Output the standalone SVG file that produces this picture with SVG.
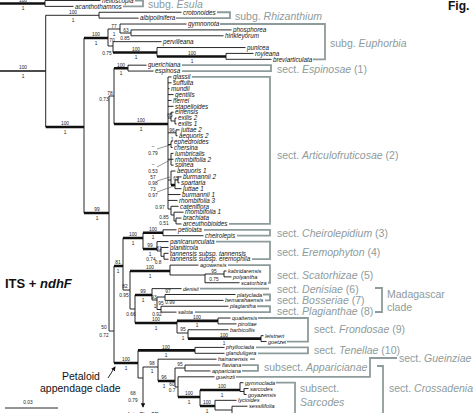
<svg xmlns="http://www.w3.org/2000/svg" width="474" height="413" viewBox="0 0 474 413">
<defs>
<style>
.br{fill:none;stroke:#111;stroke-width:0.9}
.tk{fill:none;stroke:#111;stroke-width:2.6}
.md{fill:none;stroke:#111;stroke-width:1.5}
.gl{fill:none;stroke:#8e9b9b;stroke-width:1.8}
.ld{fill:none;stroke:#333;stroke-width:0.5}
.lf{font-family:"Liberation Sans",Arial,sans-serif;font-style:italic;font-size:6.3px;fill:#111}
.sm{font-size:5.6px}
.sv{font-family:"Liberation Sans",Arial,sans-serif;font-size:4.8px;fill:#222;text-anchor:middle}
.sec{font-family:"Liberation Sans",Arial,sans-serif;font-size:10.5px;fill:#8e9b9b}
.blk{font-family:"Liberation Sans",Arial,sans-serif;fill:#111}
</style>
<marker id="ah" viewBox="0 0 6 6" refX="5" refY="3" markerWidth="5" markerHeight="5" orient="auto"><path d="M0,0 L6,3 L0,6 z" fill="#111"/></marker>
</defs>
<rect width="474" height="413" fill="#fff"/>

<g id="connectors">
<path class="tk" d="M0,3.5H45 M45.7,127H84 M84,38H108 M113,52.5H157 M157,56.5H226 M84,213H109 M114,68.2H128 M114,124H168 M114,266H123 M123,238H143 M143,232.7H163 M143,249H157 M130,271H170 M135,295H152 M135,323H177 M177,320.9H218 M188,338.6H261 M114,363H138 M138,350.4H195 M158,381H175 M178,397H200 M200,390H240 M200,406H215 M171,185H175"/>
<path class="md" d="M0,71H45.7"/>
<path class="br" d="M45,0.5V6.38 M45,0.5H100.5 M45,6.38H73.5
M45.7,15.3V127 M45.7,15.3H99 M99,12.26V18.14 M99,12.26H181.5 M99,18.14H138.5
M84,38V213 M108,29V46 M108,29H120 M120,24.02V33 M120,24.02H186.5 M120,33H131 M131,29.9V35.78 M131,29.9H231.5 M131,35.78H223.5
M108,46H113 M113,41.66V52.5 M113,41.66H161.5 M157,47.54V56.5 M157,47.54H245.5 M226,53.42V59.3 M226,53.42H253.5 M226,59.3H271.5
M109,96V331 M109,96H114 M114,68.2V124 M128,65.18V71.06 M128,65.18H146.5 M128,71.06H153.5
M168,76.94V209 M168,76.94H171.5 M168,82.82H171.5 M168,88.7H169.5 M168,94.58H173.5 M168,100.46H171.5 M168,106.34H173.5
M168,118H171 M171,112.22V121 M171,112.22H173.5 M171,121H175 M175,118.1V123.98 M175,118.1H176.5 M175,123.98H176.5
M168,132.8H176 M176,129.86V135.74 M176,129.86H179.5 M176,135.74H177.5
M168,144.56H171 M171,141.62V147.5 M171,141.62H172.5 M171,147.5H172.5
M168,159.26H171 M171,153.38V165.14 M171,153.38H173.5 M171,159.26H173.5 M171,165.14H173.5
M168,180H171 M171,171.02V185 M171,171.02H175.5 M175,180V188.66 M175,180H178 M178,176.9V182.78 M178,176.9H181.5 M178,182.78H179.5 M175,188.66H181.5
M168,194.54H180.5 M168,200.42H177.5
M168,209H171 M171,206.3V215 M171,206.3H178.5 M171,215H174 M174,212.18V221 M174,212.18H183.5 M174,221H176 M176,218.06V223.94 M176,218.06H181.5 M176,223.94H181.5
M109,331H114 M114,266V363 M123,238V290 M143,232.7V249 M163,229.82V235.7 M163,229.82H176.5 M163,235.7H203.5
M157,241.58V251 M157,241.58H168.5 M157,251H161 M161,247.46V256.3 M161,247.46H168.5 M161,256.3H164 M164,253.34V259.22 M164,253.34H168.5 M164,259.22H168.5
M123,290H130 M130,271V309 M170,265.1V275 M170,265.1H198.5 M170,275H205 M205,274V282.74 M205,274H224 M224,270.98V276.86 M224,270.98H226.5 M224,276.86H231.5 M205,282.74H239.5
M130,309H135 M135,295V323 M152,288.62V300 M152,288.62H181.5 M152,300H157 M157,297V309.5 M157,297H165 M165,294.5V300.38 M165,294.5H235.5 M165,300.38H223.5 M157,309.5H161 M161,306.26V312.14 M161,306.26H228.5 M161,312.14H176.5
M177,320.9V333 M218,318.02V323.9 M218,318.02H230.5 M218,323.9H236.5 M177,333H188 M188,329.78V338.6 M188,329.78H228.5 M261,335.66V341.54 M261,335.66H263.5 M261,341.54H266.5
M138,350.4V378 M195,347.42V353.3 M195,347.42H224.5 M195,353.3H224.5 M138,378H143
M143,367H158 M158,359.18V381 M158,359.18H216.5 M175,368V387 M175,368H185 M185,365.06V370.94 M185,365.06H220.5 M185,370.94H210.5
M175,387H178 M178,376.82V397 M178,376.82H214.5 M200,390V406 M240,382.7V391.5 M240,382.7H243.5 M240,391.5H244 M244,388.58V394.46 M244,388.58H248.5 M244,394.46H246.5
M215,400.34V410 M215,400.34H236.5 M215,410H232 M232,406.22V413 M232,406.22H247.5"/>
<path class="br" d="M143,367V407" marker-end="url(#ah)"/>
<path class="br" d="M108,378L115,367" marker-end="url(#ah)"/>
<path class="ld" d="M157,149L170,145 M157,167L170,160 M157,181L170,177 M157,192L174,186"/>
<path class="br" d="M5,408H58"/>
</g>

<g id="leaves">
<text class="lf" x="102" y="2.7">helioscopia</text>
<text class="lf" x="75" y="8.6">acanthothamnos</text>
<text class="lf" x="183" y="14.5">crotonoides</text>
<text class="lf" x="140" y="20.3">albipolinifera</text>
<text class="lf" x="188" y="26.2">gymnonota</text>
<text class="lf" x="233" y="32.1">phosphorea</text>
<text class="lf" x="225" y="38">hinkleyorum</text>
<text class="lf" x="163" y="43.9">pervilleana</text>
<text class="lf" x="247" y="49.7">punicea</text>
<text class="lf" x="255" y="55.6">royleana</text>
<text class="lf" x="273" y="61.5">breviarticulata</text>
<text class="lf" x="148" y="67.4">guerichiana</text>
<text class="lf" x="155" y="73.3">espinosa</text>
<text class="lf" x="173" y="79.1">glassii</text>
<text class="lf" x="173" y="85">suffulta</text>
<text class="lf" x="171" y="90.9">mundii</text>
<text class="lf" x="175" y="96.8">gentilis</text>
<text class="lf" x="173" y="102.7">herrei</text>
<text class="lf" x="175" y="108.5">stapelioides</text>
<text class="lf" x="175" y="114.4">einensis</text>
<text class="lf" x="178" y="120.3">exilis 2</text>
<text class="lf" x="178" y="126.2">exilis 1</text>
<text class="lf" x="181" y="132.1">juttae 2</text>
<text class="lf" x="179" y="137.9">aequoris 2</text>
<text class="lf" x="174" y="143.8">ephedroides</text>
<text class="lf" x="174" y="149.7">chersina</text>
<text class="lf" x="175" y="155.6">lumbricalis</text>
<text class="lf" x="175" y="161.5">rhombifolia 2</text>
<text class="lf" x="175" y="167.3">spinea</text>
<text class="lf" x="177" y="173.2">aequoris 1</text>
<text class="lf" x="183" y="179.1">burmannii 2</text>
<text class="lf" x="181" y="185">spartaria</text>
<text class="lf" x="183" y="190.9">juttae 1</text>
<text class="lf" x="182" y="196.7">burmannii 1</text>
<text class="lf" x="179" y="202.6">rhombifolia 3</text>
<text class="lf" x="180" y="208.5">cateniflora</text>
<text class="lf" x="185" y="214.4">rhombifolia 1</text>
<text class="lf" x="183" y="220.3">brachiata</text>
<text class="lf" x="183" y="226.1">arceuthobioides</text>
<text class="lf" x="178" y="232">petiolata</text>
<text class="lf" x="205" y="237.9">cheirolepis</text>
<text class="lf" x="170" y="243.8">panicarunculata</text>
<text class="lf" x="170" y="249.7">planiticola</text>
<text class="lf" x="170" y="255.5">tannensis subsp. tannensis</text>
<text class="lf" x="170" y="261.4">tannensis subsp. eremophila</text>
<text class="lf sm" x="200" y="267.1">agowensis</text>
<text class="lf sm" x="228" y="273">kabridarensis</text>
<text class="lf sm" x="233" y="278.9">polyantha</text>
<text class="lf sm" x="241" y="284.7">scatorhiza</text>
<text class="lf sm" x="183" y="290.6">denisii</text>
<text class="lf sm" x="237" y="296.5">platyclada</text>
<text class="lf sm" x="225" y="302.4">bemarahaensis</text>
<text class="lf sm" x="230" y="308.3">plagiantha</text>
<text class="lf sm" x="178" y="314.1">salota</text>
<text class="lf sm" x="232" y="320">quaitensis</text>
<text class="lf sm" x="238" y="325.9">pirottae</text>
<text class="lf sm" x="230" y="331.8">barbicollis</text>
<text class="lf sm" x="265" y="337.7">leistneri</text>
<text class="lf sm" x="268" y="343.5">goetzei</text>
<text class="lf sm" x="226" y="349.4">phyllociada</text>
<text class="lf sm" x="226" y="355.3">glanduligera</text>
<text class="lf sm" x="218" y="361.2">hainanensis</text>
<text class="lf sm" x="222" y="367.1">flaviana</text>
<text class="lf sm" x="212" y="372.9">appariciana</text>
<text class="lf sm" x="216" y="378.8">gueinzii</text>
<text class="lf sm" x="245" y="384.7">gymnoclada</text>
<text class="lf sm" x="250" y="390.6">sarcodes</text>
<text class="lf sm" x="248" y="396.5">goyazensis</text>
<text class="lf sm" x="238" y="402.3">lycioides</text>
<text class="lf sm" x="249" y="408.2">sessilifolia</text>
</g>

<g id="support">
<text class="sv" x="23" y="1.5">100</text><text class="sv" x="23" y="10">1</text>
<text class="sv" x="23" y="69">100</text><text class="sv" x="23" y="78">1</text>
<text class="sv" x="73" y="13.5">100</text><text class="sv" x="73" y="22">1</text>
<text class="sv" x="65" y="125">100</text><text class="sv" x="65" y="133.5">1</text>
<text class="sv" x="96" y="36">100</text><text class="sv" x="96" y="44.5">1</text>
<text class="sv" x="114" y="27.5">77</text><text class="sv" x="114" y="35.5">1</text>
<text class="sv" x="126" y="32">63</text><text class="sv" x="125" y="39.5">0.85</text>
<text class="sv" x="112" y="42">70</text><text class="sv" x="107" y="54.5">0.75</text>
<text class="sv" x="136" y="50.5">100</text><text class="sv" x="136" y="59">1</text>
<text class="sv" x="192" y="54.5">100</text><text class="sv" x="192" y="63">1</text>
<text class="sv" x="121" y="66.5">100</text><text class="sv" x="121" y="75">1</text>
<text class="sv" x="110" y="94.5">78</text><text class="sv" x="104" y="101">0.73</text>
<text class="sv" x="141" y="122">100</text><text class="sv" x="141" y="130.5">1</text>
<text class="sv" x="170" y="117">85</text>
<text class="sv" x="172" y="131.5">96</text><text class="sv" x="172" y="141">1</text>
<text class="sv" x="153" y="148">–</text><text class="sv" x="153" y="155">0.79</text>
<text class="sv" x="153" y="166">–</text><text class="sv" x="153" y="173">0.53</text>
<text class="sv" x="153" y="178.5">57</text><text class="sv" x="153" y="185">0.98</text>
<text class="sv" x="153" y="190.5">73</text><text class="sv" x="153" y="197">0.97</text>
<text class="sv" x="176" y="180">65</text>
<text class="sv" x="160" y="209">0.97</text>
<text class="sv" x="164" y="219">0.85</text>
<text class="sv" x="164" y="225">0.51</text>
<text class="sv" x="97" y="211">99</text><text class="sv" x="97" y="219.5">1</text>
<text class="sv" x="133" y="236">100</text><text class="sv" x="133" y="244.5">1</text>
<text class="sv" x="153" y="230.5">100</text><text class="sv" x="153" y="239">1</text>
<text class="sv" x="150" y="247">99</text><text class="sv" x="150" y="255.5">1</text>
<text class="sv" x="159" y="250">81</text>
<text class="sv" x="151" y="261">0.74</text><text class="sv" x="158" y="264">0.8</text>
<text class="sv" x="118" y="264">81</text><text class="sv" x="118" y="272.5">1</text>
<text class="sv" x="150" y="269">100</text><text class="sv" x="150" y="277.5">1</text>
<text class="sv" x="214" y="272.5">95</text><text class="sv" x="214" y="281">0.75</text>
<text class="sv" x="125" y="288">82</text><text class="sv" x="124" y="297">0.95</text>
<text class="sv" x="131" y="316">0.66</text>
<text class="sv" x="143" y="293">99</text><text class="sv" x="143" y="301.5">1</text>
<text class="sv" x="168" y="292.5">97</text>
<text class="sv" x="154" y="298.5">93</text><text class="sv" x="161" y="305">95</text><text class="sv" x="170" y="304">0.99</text>
<text class="sv" x="155" y="307.5">1</text><text class="sv" x="157" y="316">0.92</text>
<text class="sv" x="156" y="321">100</text><text class="sv" x="156" y="329.5">1</text>
<text class="sv" x="197" y="318.5">100</text><text class="sv" x="197" y="327">1</text>
<text class="sv" x="183" y="331">95</text><text class="sv" x="183" y="339.5">1</text>
<text class="sv" x="224" y="336.5">100</text><text class="sv" x="224" y="345">1</text>
<text class="sv" x="104" y="329">50</text><text class="sv" x="104" y="337">0.72</text>
<text class="sv" x="166" y="348.5">100</text><text class="sv" x="166" y="357">1</text>
<text class="sv" x="126" y="361">100</text><text class="sv" x="126" y="369.5">1</text>
<text class="sv" x="133" y="395">68</text><text class="sv" x="133" y="401.5">0.79</text>
<text class="sv" x="152" y="365">98</text><text class="sv" x="152" y="373">1</text>
<text class="sv" x="164" y="379">96</text><text class="sv" x="164" y="387.5">1</text>
<text class="sv" x="180" y="366">95</text>
<text class="sv" x="172" y="385.5">60</text><text class="sv" x="172" y="392">0.7</text>
<text class="sv" x="189" y="395">100</text><text class="sv" x="189" y="403.5">1</text>
<text class="sv" x="222" y="388">100</text><text class="sv" x="222" y="396.5">1</text>
<text class="sv" x="207" y="404">100</text><text class="sv" x="207" y="412.5">1</text>
<text class="sv" x="28" y="404">0.03</text>
</g>

<g id="sect-esula"><path class="gl" d="M135,0.5H143V6.38H123"/><text class="sec" x="148" y="8">subg. <tspan font-style="italic">Esula</tspan></text></g>
<g id="sect-rhizanthium"><path class="gl" d="M217,12.26H230V18.14H176"/><text class="sec" x="235" y="19.5">subg. <tspan font-style="italic">Rhizanthium</tspan></text></g>
<g id="sect-euphorbia"><path class="gl" d="M220,24.02H325V59.3H313"/><text class="sec" x="330" y="47">subg. <tspan font-style="italic">Euphorbia</tspan></text></g>
<g id="sect-espinosae"><path class="gl" d="M182,65.18H271V71.06H182"/><text class="sec" x="277" y="73">sect. <tspan font-style="italic">Espinosae</tspan> (1)</text></g>
<g id="sect-articulofruticosae"><path class="gl" d="M192,76.94H270V223.94H229"/><text class="sec" x="277" y="159">sect. <tspan font-style="italic">Articulofruticosae</tspan> (2)</text></g>
<g id="sect-cheirolepidium"><path class="gl" d="M204,229.82H270V235.7H237"/><text class="sec" x="277" y="237">sect. <tspan font-style="italic">Cheirolepidium</tspan> (3)</text></g>
<g id="sect-eremophyton"><path class="gl" d="M216,241.58H270V259.22H252"/><text class="sec" x="277" y="256">sect. <tspan font-style="italic">Eremophyton</tspan> (4)</text></g>
<g id="sect-scatorhizae"><path class="gl" d="M228,265.1H270V282.74H268"/><text class="sec" x="277" y="278.5">sect. <tspan font-style="italic">Scatorhizae</tspan>  (5)</text></g>
<g id="sect-denisiae"><path class="gl" d="M200,288.62H269"/><text class="sec" x="277" y="293">sect. <tspan font-style="italic">Denisiae</tspan> (6)</text></g>
<g id="sect-bosseriae"><path class="gl" d="M263,294.5H270V300.38H265"/><text class="sec" x="277" y="303.5">sect. <tspan font-style="italic">Bosseriae</tspan> (7)</text></g>
<g id="sect-plagianthae"><path class="gl" d="M257,306.26H270V312.14H195"/><text class="sec" x="277" y="314.5">sect. <tspan font-style="italic">Plagianthae</tspan> (8)</text></g>
<g id="madagascar"><path class="gl" d="M375,288H382V312H375"/><text class="sec" x="387" y="298">Madagascar</text><text class="sec" x="387" y="311">clade</text></g>
<g id="sect-frondosae"><path class="gl" d="M258,318.02H308V341.54H287"/><text class="sec" x="314" y="333">sect. <tspan font-style="italic">Frondosae</tspan> (9)</text></g>
<g id="sect-tenellae"><path class="gl" d="M256,347.42H308V353.3H258"/><text class="sec" x="314" y="354">sect. <tspan font-style="italic">Tenellae</tspan> (10)</text></g>
<g id="sect-gueinziae"><path class="gl" d="M236,376.82H370V358H397 M250,359.18H255"/><text class="sec" x="399" y="362">sect. <tspan font-style="italic">Gueinziae</tspan></text></g>
<g id="subsect-apparicianae"><path class="gl" d="M242,365.06H258V370.94H242"/><text class="sec" x="264" y="371">subsect. <tspan font-style="italic">Apparicianae</tspan></text></g>
<g id="sect-crossadenia"><path class="gl" d="M377,366H383V413"/><text class="sec" x="389" y="392">sect. <tspan font-style="italic">Crossadenia</tspan></text></g>
<g id="subsect-sarcodes"><path class="gl" d="M276,382.7H295V413"/><text class="sec" x="300" y="392">subsect.</text><text class="sec" x="300" y="406" font-style="italic">Sarcodes</text></g>

<g id="labels">
<text class="blk" x="448" y="10" font-size="12" font-weight="bold">Fig.</text>
<text class="blk" x="5" y="288" font-size="13" font-weight="bold">ITS + <tspan font-style="italic">ndhF</tspan></text>
<text class="blk" x="62" y="380" font-size="10.5">Petaloid</text>
<text class="blk" x="40" y="392" font-size="10.5">appendage clade</text>
<text class="blk" x="128" y="416" font-size="6">Into Fig. 3B</text>
</g>
</svg>
